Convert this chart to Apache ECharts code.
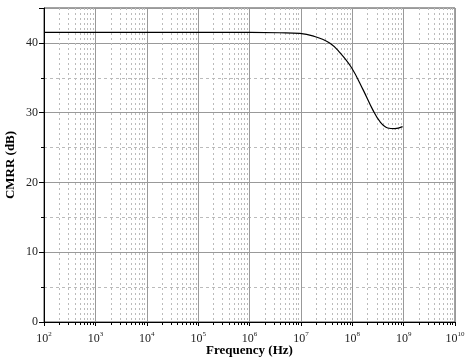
<!DOCTYPE html>
<html><head><meta charset="utf-8">
<script src="https://cdn.jsdelivr.net/npm/echarts@6/dist/echarts.min.js"></script>
<style>html,body{margin:0;padding:0;background:#fff}#c{width:474px;height:359px}</style>
</head><body><div id="c"></div>
<script>
const freqExp = [2, 3, 4, 5, 6, 6.59, 6.98, 7.23, 7.56, 7.76, 7.99, 8.21, 8.40, 8.54, 8.69, 8.83, 8.98];
const cmrr = [41.5, 41.5, 41.5, 41.5, 41.5, 41.45, 41.35, 41.0, 40.0, 38.6, 36.4, 33.3, 30.4, 28.7, 27.8, 27.7, 28.0];
const xTickExp = [2, 3, 4, 5, 6, 7, 8, 9, 10];
const yTicks = [0, 10, 20, 30, 40];

const data = freqExp.map((e, i) => [Math.pow(10, e), cmrr[i]]);
const serif = 'Liberation Serif';
const chart = echarts.init(document.getElementById('c'));
chart.setOption({
  animation: false,
  grid: {left: 44, right: 19, top: 8, bottom: 37, show: true, borderColor: '#444', borderWidth: 1,
    containLabel: false, outerBoundsMode: 'none'},
  xAxis: {
    type: 'log', logBase: 10, min: 100, max: 1e10,
    name: 'Frequency (Hz)', nameLocation: 'middle', nameGap: 22, nameMoveOverlap: false,
    nameTextStyle: {fontFamily: serif, fontWeight: 'bold', fontSize: 13, color: '#000'},
    axisLine: {lineStyle: {color: '#000'}},
    axisTick: {show: true, length: 4, lineStyle: {color: '#000'}},
    minorTick: {show: true, splitNumber: 9, length: 3, lineStyle: {color: '#000'}},
    splitLine: {show: true, lineStyle: {color: '#999', width: 1}},
    minorSplitLine: {show: true, lineStyle: {color: '#bbb', type: [2, 3], width: 1}},
    axisLabel: {
      fontFamily: serif, fontSize: 12, color: '#222', margin: 9,
      formatter: v => '10{s|' + Math.round(Math.log10(v)) + '}',
      rich: {s: {fontFamily: serif, fontSize: 7, verticalAlign: 'top', padding: [0, 0, 8, 0]}}
    }
  },
  yAxis: {
    type: 'value', min: 0, max: 45, interval: 10,
    name: 'CMRR (dB)', nameLocation: 'middle', nameGap: 27, nameRotate: 90, nameMoveOverlap: false,
    nameTextStyle: {fontFamily: serif, fontWeight: 'bold', fontSize: 13, color: '#000'},
    axisLine: {show: true, lineStyle: {color: '#000'}},
    axisTick: {show: true, length: 5, lineStyle: {color: '#000'}},
    minorTick: {show: true, splitNumber: 2, length: 3, lineStyle: {color: '#000'}},
    splitLine: {show: true, lineStyle: {color: '#999', width: 1}},
    minorSplitLine: {show: true, lineStyle: {color: '#bbb', type: [3, 3], width: 1}},
    axisLabel: {fontFamily: serif, fontSize: 12, color: '#222', margin: 6,
      formatter: v => yTicks.includes(v) ? String(v) : ''}
  },
  series: [{
    type: 'line', data: data, smooth: 0.4, showSymbol: false,
    lineStyle: {color: '#000', width: 1.2}
  }]
});
</script></body></html>
